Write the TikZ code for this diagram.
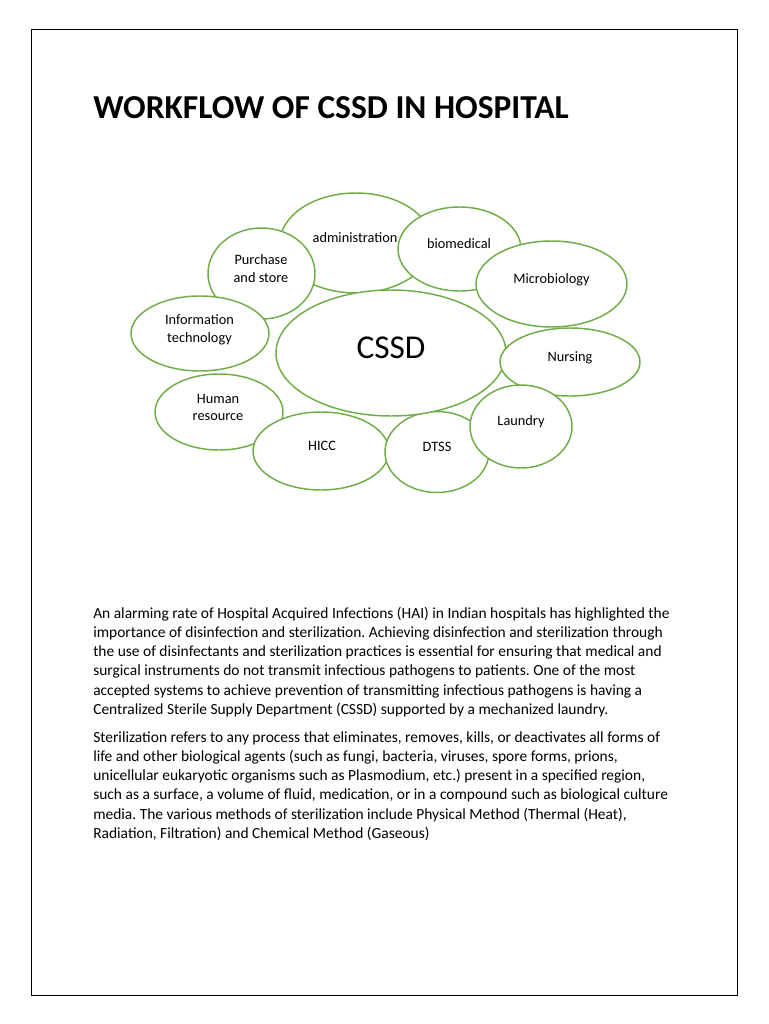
\documentclass[tikz,border=0pt]{standalone}
\usepackage{fontspec}
\setmainfont{Carlito}
\usetikzlibrary{shapes.geometric}
\definecolor{bubgreen}{HTML}{70AD47}
\tikzset{
  bub/.style={ellipse,draw=bubgreen,line width=1.1pt,fill=white,inner sep=0pt},
  lab/.style={font=\fontsize{10.75pt}{13.2pt}\selectfont,align=center,text=black,inner sep=0pt},
  para/.style={anchor=north west,align=left,inner sep=0pt,text=black,font=\fontsize{11.6pt}{14.45pt}\selectfont\frenchspacing},
}
\newcommand{\bubble}[5]{\node[bub,minimum width=#4*1.5pt,minimum height=#5*1.5pt] (#1) at (#2,#3) {};}
\begin{document}
\begin{tikzpicture}[x=0.75pt,y=-0.75pt]
\useasboundingbox (0,0) rectangle (768,1024);
\fill[white] (0,0) rectangle (768,1024);
\node[draw=black,line width=0.75pt,minimum width=529.5pt,minimum height=723.75pt,inner sep=0pt] (frame) at (384,512.5) {};
\node[anchor=base west,inner sep=0pt,font=\fontsize{25.1pt}{30pt}\selectfont\bfseries] (title) at (93,118.5) {WORKFLOW OF CSSD IN HOSPITAL};
\bubble{admin}{356}{243}{76}{50}
\bubble{bio}{459.5}{249}{61.5}{42}
\bubble{micro}{551.5}{284}{75.5}{43}
\bubble{purchase}{261.5}{273.5}{53.5}{45.5}
\bubble{info}{200}{333.5}{69}{37.5}
\bubble{human}{219}{412}{64}{38}
\bubble{hicc}{321}{451}{68}{39}
\bubble{dtss}{437}{452}{52}{40.5}
\bubble{cssd}{391}{353}{115}{63}
\bubble{nursing}{570}{362}{70}{34}
\bubble{laundry}{521}{426.5}{51}{41.5}
\node[lab] (tadmin) at (355,238) {administration};
\node[lab] (tbio) at (459,244) {biomedical};
\node[lab] (tmicro) at (551.5,279.5) {Microbiology};
\node[lab] (tpurchase) at (261,268.5) {Purchase\\and store};
\node[lab] (tinfo) at (199.5,329.5) {Information\\technology};
\node[lab] (thuman) at (218,407.5) {Human\\resource};
\node[lab] (thicc) at (322,446) {HICC};
\node[lab] (tdtss) at (437,447) {DTSS};
\node[lab] (tlaundry) at (521,421.5) {Laundry};
\node[lab] (tnursing) at (570,357.5) {Nursing};
\node[lab,font=\fontsize{25pt}{30pt}\selectfont] (tcssd) at (391,347.5) {CSSD};
\node[para] (p1) at (93,606.5) {An alarming rate of Hospital Acquired Infections (HAI) in Indian hospitals has highlighted the\\
importance of disinfection and sterilization. Achieving disinfection and sterilization through\\
the use of disinfectants and sterilization practices is essential for ensuring that medical and\\
surgical instruments do not transmit infectious pathogens to patients. One of the most\\
accepted systems to achieve prevention of transmitting infectious pathogens is having a\\
Centralized Sterile Supply Department (CSSD) supported by a mechanized laundry.};
\node[para] (p2) at (93,731) {Sterilization refers to any process that eliminates, removes, kills, or deactivates all forms of\\
life and other biological agents (such as fungi, bacteria, viruses, spore forms, prions,\\
unicellular eukaryotic organisms such as Plasmodium, etc.) present in a specified region,\\
such as a surface, a volume of fluid, medication, or in a compound such as biological culture\\
media. The various methods of sterilization include Physical Method (Thermal (Heat),\\
Radiation, Filtration) and Chemical Method (Gaseous)};
\end{tikzpicture}
\end{document}
